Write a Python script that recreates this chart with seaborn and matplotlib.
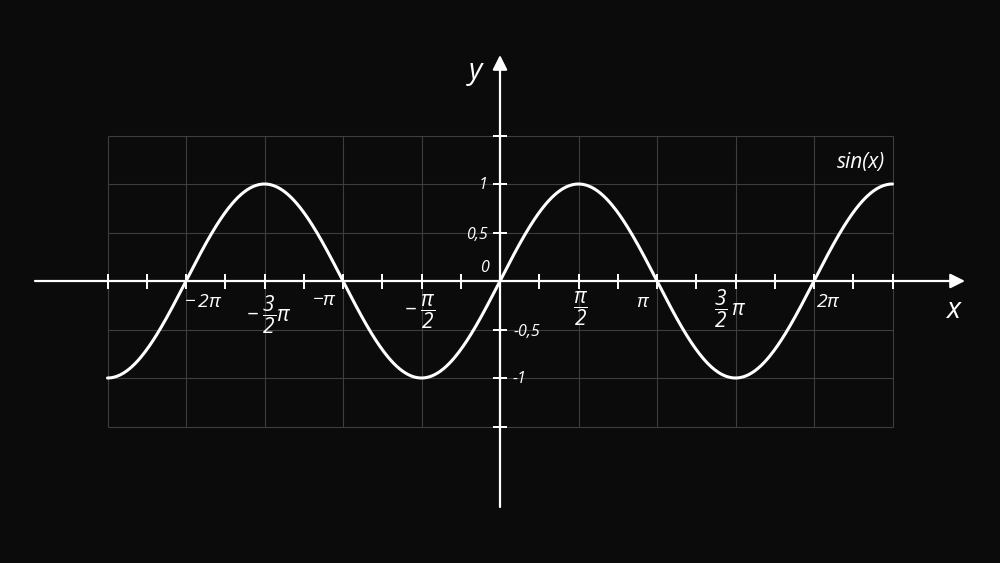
import numpy as np
import matplotlib
matplotlib.use("Agg")
import matplotlib.pyplot as plt
import seaborn as sns

PI = np.pi

# --- data (x in multiples of pi) ---
curve_start = -2.5
curve_end = 2.5
curve_label = "sin(x)"

x_minor_ticks = np.arange(-2.5, 2.51, 0.25)
y_axis_ticks = [1.5, 1.0, 0.5, -0.5, -1.0, -1.5]
grid_x = np.arange(-2.5, 2.51, 0.5)
grid_y = [-1.5, -1.0, -0.5, 0.0, 0.5, 1.0, 1.5]

x_label_pos = [-1.89, -1.47, -1.12, -0.51, 0.51, 0.91, 1.465, 2.09]
x_label_y = [-0.22, -0.35, -0.20, -0.32, -0.29, -0.22, -0.29, -0.22]
x_label_text = [r"$-\,2\pi$", r"$-\;\dfrac{3}{2}\pi$", r"$-\pi$", r"$-\;\dfrac{\pi}{2}$",
                r"$\dfrac{\pi}{2}$", r"$\pi$", r"$\dfrac{3}{2}\,\pi$", r"$2\pi$"]
x_label_size = [14, 15, 14, 15, 15, 14, 15, 14]

y_label_text = ["1", "0,5", "0", "-0,5", "-1"]
y_label_y = [0.99, 0.47, 0.13, -0.53, -1.01]
y_label_x = [-0.108, -0.146, -0.096, 0.172, 0.127]

sns.set_theme(style="dark")
plt.rcParams.update({
    "font.family": ["Open Sans", "DejaVu Sans"],
    "font.style": "italic",
    "mathtext.fontset": "custom",
    "mathtext.rm": "Open Sans:italic",
    "mathtext.it": "Open Sans:italic",
    "mathtext.bf": "Open Sans:italic:bold",
})

bg = "#0b0b0b"
fig = plt.figure(figsize=(10, 5.63), dpi=100, facecolor=bg)
ax = fig.add_axes([0, 0, 1, 1], facecolor=bg)
ax.set_xlim(-500 / 157 * PI, 500 / 157 * PI)
ax.set_ylim(-(563 - 281) / 97, 281 / 97)
ax.set_axis_off()

# grid
ax.vlines(grid_x * PI, -1.5, 1.5, color="#3e3e3e", lw=0.8, zorder=1)
ax.hlines(grid_y, curve_start * PI, curve_end * PI, color="#3e3e3e", lw=0.8, zorder=1)

# axes with arrows
ax.annotate("", xy=(465 / 157 * PI, 0), xytext=(-465 / 157 * PI, 0),
            arrowprops=dict(arrowstyle="-|>", color="white", lw=1.6,
                            mutation_scale=22, shrinkA=0, shrinkB=0), zorder=3)
ax.annotate("", xy=(0, 226 / 97), xytext=(0, -226 / 97),
            arrowprops=dict(arrowstyle="-|>", color="white", lw=1.6,
                            mutation_scale=22, shrinkA=0, shrinkB=0), zorder=3)

# tick marks
ax.vlines(x_minor_ticks * PI, -7.5 / 97, 7.5 / 97, color="white", lw=1.4, zorder=3)
ax.hlines(y_axis_ticks, -7 / 157 * PI, 7 / 157 * PI, color="white", lw=1.4, zorder=3)

# curve
xs = np.linspace(curve_start * PI, curve_end * PI, 800)
sns.lineplot(x=xs, y=np.sin(xs), color="white", lw=2.2, ax=ax, zorder=4)

# labels
for xp, yp, t, fs in zip(x_label_pos, x_label_y, x_label_text, x_label_size):
    ax.text(xp * PI, yp, t, color="white", fontsize=fs, ha="center", va="center")
for xp, yp, t in zip(y_label_x, y_label_y, y_label_text):
    ax.text(xp * PI, yp, t, color="white", fontsize=11.5, ha="center", va="center")

ax.text(453 / 157 * PI, -0.30, "x", color="white", fontsize=21, ha="center", va="center")
ax.text(-25 / 157 * PI, 2.16, "y", color="white", fontsize=21, ha="center", va="center")
ax.text(361 / 157 * PI, 1.22, curve_label, color="white", fontsize=15, ha="center", va="center")

fig.savefig("out.png", dpi=100, facecolor=bg)
